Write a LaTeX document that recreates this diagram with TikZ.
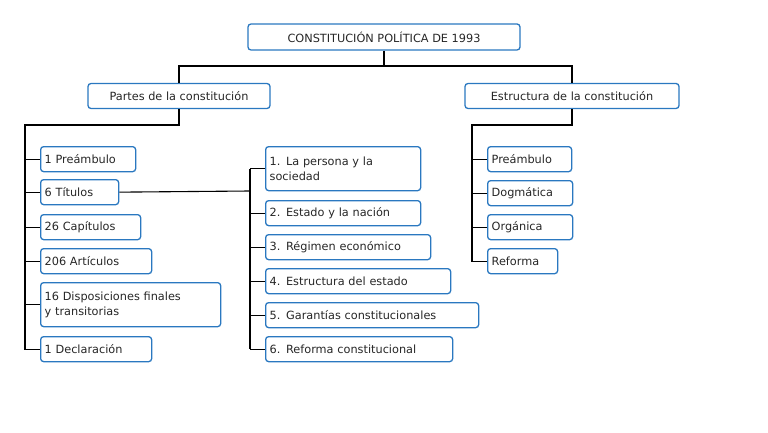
\documentclass[tikz,border=0pt]{standalone}
\usepackage{fontspec}
\setmainfont{DejaVu Sans}
\begin{document}
\begin{tikzpicture}[x=1pt,y=-1pt,
  box/.style={draw=boxblue,line width=1.3pt,rounded corners=3pt,anchor=north west,inner xsep=4pt,inner ysep=1pt,font=\fontsize{11.3}{15}\selectfont,text=black!85,align=left},
  ln/.style={draw=black,line width=1.1pt}]
\definecolor{boxblue}{HTML}{2A78C0}
\useasboundingbox (0,0) rectangle (768,433);
\newcommand{\bx}[6]{\node[box,text width=#4-8,minimum height=#5] (#1) at (#2,#3) {#6};}
\node[box,anchor=center,minimum width=272,minimum height=26,align=center] (t) at (384,37) {CONSTITUCIÓN POLÍTICA DE 1993};
\node[box,anchor=center,minimum width=182,minimum height=25,align=center] (p) at (179,96) {Partes de la constitución};
\node[box,anchor=center,minimum width=214,minimum height=25,align=center] (e) at (572,96) {Estructura de la constitución};
\bx{l1}{40}{146}{95}{25}{1 Preámbulo}
\bx{l2}{40}{179}{78}{25}{6 Títulos}
\bx{l3}{40}{214}{100}{25}{26 Capítulos}
\bx{l4}{40}{248}{111}{25}{206 Artículos}
\bx{l5}{40}{282}{180}{44}{16 Disposiciones finales\\y transitorias}
\bx{l6}{40}{336}{111}{25}{1 Declaración}
\bx{m1}{265}{146}{155}{44}{1. La persona y la\\sociedad}
\bx{m2}{265}{200}{155}{25}{2. Estado y la nación}
\bx{m3}{265}{234}{165}{25}{3. Régimen económico}
\bx{m4}{265}{268}{185}{25}{4. Estructura del estado}
\bx{m5}{265}{302}{213}{25}{5. Garantías constitucionales}
\bx{m6}{265}{336}{187}{25}{6. Reforma constitucional}
\bx{r1}{487}{146}{84}{25}{Preámbulo}
\bx{r2}{487}{180}{85}{25}{Dogmática}
\bx{r3}{487}{214}{85}{25}{Orgánica}
\bx{r4}{487}{248}{70}{25}{Reforma}
\coordinate (tj) at (384,66);
\draw[ln] (t.south) -- (tj);
\draw[ln] (p.north) |- (tj) -| (e.north);
\coordinate (pl) at (25,125);
\draw[ln] (p.south) |- (pl) |- (l6.west);
\foreach \n in {l1,l2,l3,l4,l5} \draw[ln] (pl|-\n.west) -- (\n.west);
\coordinate (mj) at (250,191);
\draw[ln] (l2.east) -- (mj);
\draw[ln] (m1.west-|mj) -- (m6.west-|mj);
\foreach \n in {m1,m2,m3,m4,m5,m6} \draw[ln] (mj|-\n.west) -- (\n.west);
\coordinate (er) at (472,125);
\draw[ln] (e.south) |- (er) |- (r4.west);
\foreach \n in {r1,r2,r3} \draw[ln] (er|-\n.west) -- (\n.west);
\end{tikzpicture}
\end{document}
